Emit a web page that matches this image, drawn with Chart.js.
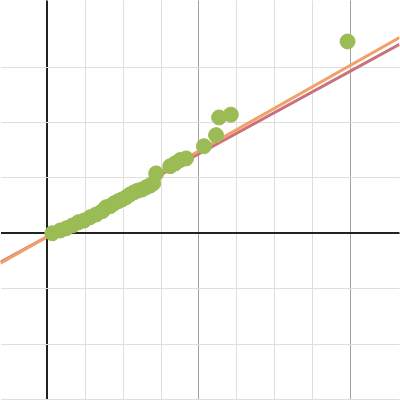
<!DOCTYPE html>
<html><head><script src="https://cdn.jsdelivr.net/npm/chart.js@4"></script>
<style>html,body{margin:0;padding:0;background:#fff;overflow:hidden}#w{position:absolute;left:-8px;top:-8px;width:416px;height:416px}</style></head>
<body><div id="w"><canvas id="c"></canvas></div>
<script>
const pointsX=[0.13,0.34,0.5,0.66,0.82,0.97,1.13,1.29,1.45,1.55,1.66,1.76,1.87,1.97,2.08,2.18,2.29,2.39,2.5,2.61,2.71,2.79,2.87,3.24,3.37,3.5,3.66,4.13,4.45,4.53,4.84,7.92];
const pointsY=[0,0.05,0.09,0.14,0.2,0.23,0.29,0.34,0.4,0.47,0.49,0.54,0.58,0.61,0.65,0.7,0.74,0.77,0.79,0.83,0.86,0.9,1.08,1.21,1.26,1.32,1.35,1.57,1.77,2.09,2.14,3.46];
const orangeLine=[{x:-1.237,y:-0.54},{x:9.29,y:3.53}];
const redLine=[{x:-1.237,y:-0.52},{x:9.29,y:3.41}];
const pts=pointsX.map((x,i)=>({x,y:pointsY[i]}));
function gridColor(ctx){const v=ctx.tick&&ctx.tick.value;if(v===0)return '#222';if(Math.abs(v)%4===0)return '#a0a0a0';return '#dedede';}
function intTicks(s){s.ticks=s.ticks.filter(t=>Math.abs(t.value-Math.round(t.value))<1e-9);}
new Chart(document.getElementById('c'),{type:'scatter',data:{datasets:[
{data:pts,backgroundColor:'#9bbb55',borderColor:'#9bbb55',pointRadius:7.5,order:1},
{type:'line',data:redLine,borderColor:'#c9717c',borderWidth:3,pointRadius:0,order:3},
{type:'line',data:orangeLine,borderColor:'#f2a06a',borderWidth:3,pointRadius:0,order:2}
]},options:{responsive:true,maintainAspectRatio:false,animation:false,layout:{padding:0},
plugins:{legend:{display:false},tooltip:{enabled:false}},
scales:{x:{type:'linear',min:-1.237,max:9.29,afterBuildTicks:intTicks,ticks:{display:false,stepSize:1},border:{display:false},grid:{color:gridColor,lineWidth:c=>c.tick&&c.tick.value===0?2:1,drawTicks:false}},
y:{type:'linear',min:-3.0,max:4.2,afterBuildTicks:intTicks,ticks:{display:false,stepSize:1},border:{display:false},grid:{color:gridColor,lineWidth:c=>c.tick&&c.tick.value===0?2:1,drawTicks:false}}}}});
</script></body></html>
